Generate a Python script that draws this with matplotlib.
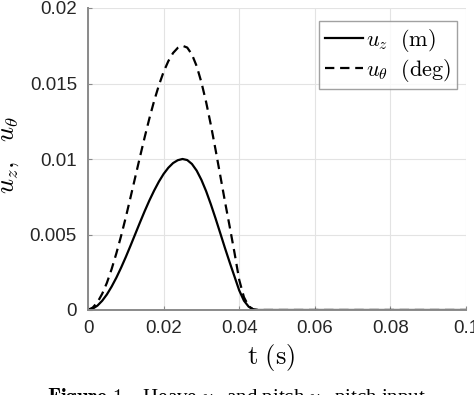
import matplotlib
matplotlib.use("Agg")
import matplotlib.pyplot as plt

# ---- data ----
t = [0.0, 0.00125, 0.0025, 0.00375, 0.005, 0.00625, 0.0075, 0.00875, 0.01, 0.01125,
     0.0125, 0.01375, 0.015, 0.01625, 0.0175, 0.01875, 0.02, 0.02125, 0.0225, 0.02375,
     0.025, 0.02625, 0.0275, 0.02875, 0.03, 0.03125, 0.0325, 0.03375, 0.035, 0.03625,
     0.0375, 0.03875, 0.04, 0.04125, 0.0425, 0.04375, 0.045, 0.05, 0.1]
u_z = [0.0, 0.00009, 0.00029, 0.00061, 0.00103, 0.00155, 0.00214, 0.00280, 0.00351, 0.00426,
       0.00503, 0.00580, 0.00655, 0.00726, 0.00791, 0.00850, 0.00901, 0.00942, 0.00973, 0.00992,
       0.01000, 0.00993, 0.00967, 0.00923, 0.00862, 0.00787, 0.00700, 0.00606, 0.00508, 0.00409,
       0.00314, 0.00222, 0.00130, 0.00062, 0.00022, 0.00004, 0.0, 0.0, 0.0]
u_theta = [0.0, 0.00016, 0.00051, 0.00107, 0.00180, 0.00271, 0.00375, 0.00490, 0.00614, 0.00746,
           0.00880, 0.01014, 0.01145, 0.01270, 0.01385, 0.01488, 0.01577, 0.01648, 0.01702, 0.01736,
           0.01750, 0.01738, 0.01692, 0.01615, 0.01508, 0.01377, 0.01226, 0.01061, 0.00889, 0.00716,
           0.00550, 0.00380, 0.00200, 0.00085, 0.00025, 0.00003, 0.0, 0.0, 0.0]

xticks = [0, 0.02, 0.04, 0.06, 0.08, 0.1]
xtick_labels = ["0", "0.02", "0.04", "0.06", "0.08", "0.1"]
yticks = [0, 0.005, 0.01, 0.015, 0.02]
ytick_labels = ["0", "0.005", "0.01", "0.015", "0.02"]

plt.rcParams['mathtext.fontset'] = 'cm'
plt.rcParams['font.family'] = ['Liberation Sans', 'DejaVu Sans']

fig = plt.figure(figsize=(4.74, 3.95), dpi=100)
ax = fig.add_axes([88/474, 85/395, (466-88)/474, (310-8)/395])

ax.plot(t, u_z, color='black', lw=1.6, ls='-', label=r'$u_z\ \ \mathrm{(m)}$')
ax.plot(t, u_theta, color='black', lw=1.6, ls='--', dashes=(4.2, 2.6),
        label=r'$u_\theta\ \ \mathrm{(deg)}$')

ax.set_xlim(0, 0.1)
ax.set_ylim(0, 0.02)
ax.set_xticks(xticks)
ax.set_xticklabels(xtick_labels)
ax.set_yticks(yticks)
ax.set_yticklabels(ytick_labels)

ax.grid(True, color='#e3e3e3', lw=0.8)
ax.set_axisbelow(True)
for s in ['top', 'right']:
    ax.spines[s].set_visible(False)
for s in ['left', 'bottom']:
    ax.spines[s].set_color('#8a8a8a')
    ax.spines[s].set_linewidth(1.4)
ax.tick_params(direction='in', length=3, width=0.8, color='#8a8a8a',
               labelsize=13.5, labelcolor='#262626')
ax.tick_params(axis='y', pad=8)
ax.tick_params(axis='x', pad=7)

ax.set_xlabel(r'$\mathrm{t\ (s)}$', fontsize=19, va='top')
ax.xaxis.set_label_coords(0.485, -0.105)
ax.set_ylabel(r'$u_z,\ \ u_\theta$', fontsize=19, va='baseline')
ax.yaxis.set_label_coords(-0.196, 0.513)

leg = ax.legend(loc='upper right', bbox_to_anchor=(0.975, 0.957), fontsize=16,
                frameon=True, fancybox=False, edgecolor='#8a8a8a',
                handlelength=1.7, handletextpad=0.15, borderpad=0.25,
                labelspacing=0.15, borderaxespad=0)
leg.get_frame().set_linewidth(1.0)

fig.text(0.5, 1 - 386/395, r'$\mathbf{Figure\ 1.}$  Heave $u_z$ and pitch $u_\theta$ pitch input',
         ha='center', va='top', fontsize=15, family='Liberation Serif')

fig.savefig('out.png', dpi=100)
